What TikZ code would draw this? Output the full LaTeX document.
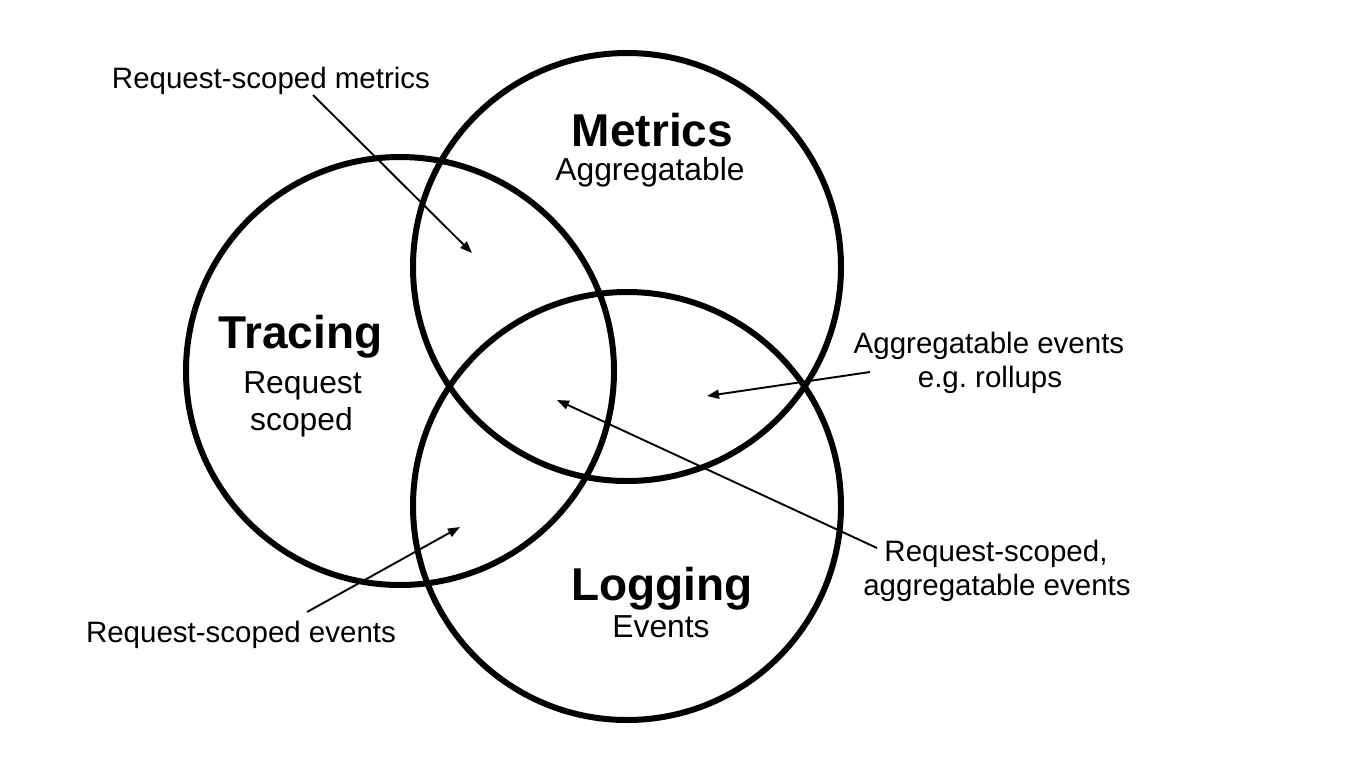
\documentclass[tikz,border=0pt]{standalone}
\usepackage{fontspec}
\setmainfont{Liberation Sans}
\usetikzlibrary{arrows.meta}
\frenchspacing
\begin{document}
\begin{tikzpicture}[x=1pt,y=-1pt,
  ring/.style={circle,draw=black,line width=6pt,minimum size=428pt,inner sep=0pt},
  title/.style={anchor=base,inner sep=0pt,font=\fontsize{46}{50}\selectfont\bfseries},
  sub/.style={anchor=base,inner sep=0pt,font=\fontsize{31.8}{34}\selectfont},
  lbl/.style={anchor=base,inner sep=0pt,font=\fontsize{29.5}{34}\selectfont},
  pointer/.style={line width=1.9pt,-{Triangle[length=12pt,width=9pt]}}]
\path[use as bounding box,fill=white] (0,0) rectangle (1358,772);
% circles
\node[ring] (tracing) at (400,371) {};
\node[ring] (metrics) at (627,267) {};
\node[ring] (logging) at (627,506) {};
% circle texts
\node[title] (mt) at (652.5,146) {Metrics};
\node[sub] (ms) at (650,180) {Aggregatable};
\node[title] (tt) at (300.5,348) {Tracing};
\node[sub] (ts1) at (302.5,393) {Request};
\node[sub] (ts2) at (301.5,430) {scoped};
\node[title] (lt) at (662,600) {Logging};
\node[sub] (ls) at (661,637) {Events};
% labels
\node[lbl] (l1) at (271,88) {Request-scoped metrics};
\node[lbl] (l2a) at (989,353) {Aggregatable events};
\node[lbl] (l2b) at (990,387) {e.g.\ rollups};
\node[lbl] (l3a) at (996,561) {Request-scoped,};
\node[lbl] (l3b) at (997,595) {aggregatable events};
\node[lbl] (l4) at (241,642) {Request-scoped events};
% arrow ends
\coordinate (a1s) at (313,95);  \coordinate (a1e) at (472,253);
\coordinate (a2s) at (870,372); \coordinate (a2e) at (707,396);
\coordinate (a3s) at (877,548); \coordinate (a3e) at (557,400);
\coordinate (a4s) at (307,612); \coordinate (a4e) at (460,527);
\draw[pointer] (a1s) -- (a1e);
\draw[pointer] (a2s) -- (a2e);
\draw[pointer] (a3s) -- (a3e);
\draw[pointer] (a4s) -- (a4e);
\end{tikzpicture}
\end{document}
